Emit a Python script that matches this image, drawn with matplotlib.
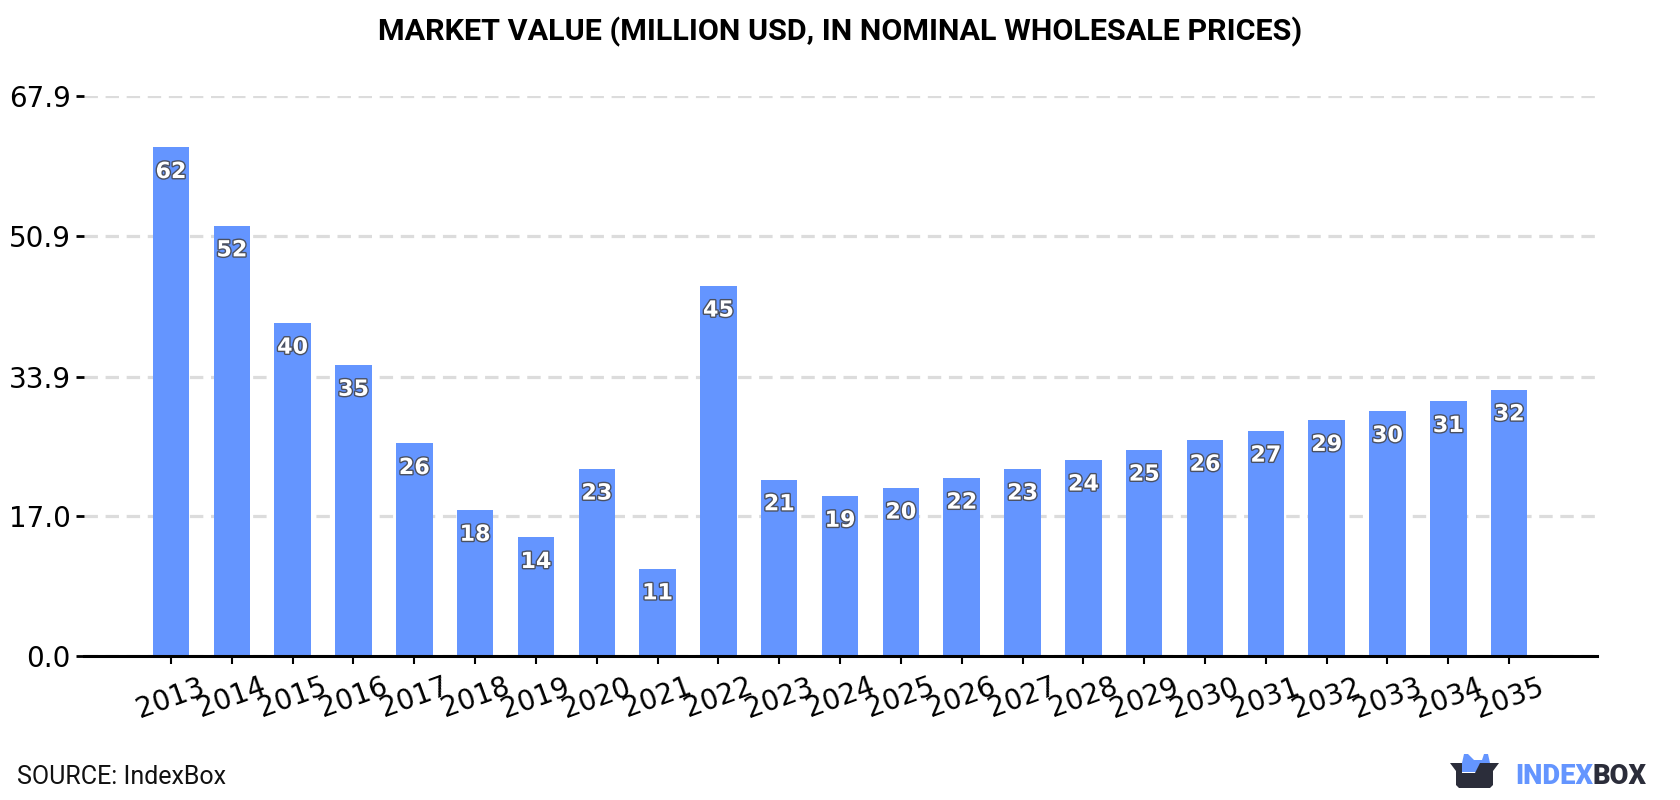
import matplotlib
matplotlib.use("Agg")
import matplotlib.pyplot as plt
import matplotlib.patheffects as pe
from matplotlib.patches import Polygon

years = list(range(2013, 2036))
values = [61.7, 52.2, 40.4, 35.3, 25.8, 17.7, 14.4, 22.7, 10.6, 44.9, 21.4, 19.4,
          20.4, 21.6, 22.7, 23.8, 25.0, 26.2, 27.3, 28.6, 29.7, 30.9, 32.3]
y_ticks = [0.0, 17.0, 33.9, 50.9, 67.9]

BLUE = "#6495ff"
DARK = "#2b2d3a"
W, H = 1680, 800

fig = plt.figure(figsize=(W / 100, H / 100), dpi=100, facecolor="white")
ax = fig.add_axes([84 / W, 1 - 656 / H, (1597 - 84) / W, (656 - 96.2) / H])

ax.bar(years, values, width=0.6, color=BLUE, zorder=2)
ax.set_xlim(2013 - 1.43, 2035 + 1.445)
ax.set_ylim(0, 67.9)

# dashed guides behind the bars
ax.yaxis.grid(True, color="#dcdcdc", linestyle=(0, (4.2, 2.4)), linewidth=2.3, zorder=1)
ax.set_axisbelow(True)
for s in ["top", "right", "left"]:
    ax.spines[s].set_visible(False)
ax.spines["bottom"].set_linewidth(2.2)

ax.set_yticks(y_ticks)
ax.set_yticklabels([f"{t:.1f}" for t in y_ticks], fontsize=20, family="DejaVu Sans")
ax.set_xticks(years)
ax.set_xticklabels(years, fontsize=20, family="DejaVu Sans", rotation=20, ha="center")
ax.tick_params(axis="y", length=6, width=2, pad=3.5)
ax.tick_params(axis="x", length=6, width=1.5, pad=6)

for year, val in zip(years, values):
    ax.annotate(f"{val:.0f}", (year, val), xytext=(0, -17.8), textcoords="offset points",
                ha="center", va="center", fontsize=16, fontweight="bold",
                family="DejaVu Sans", color="white", zorder=3,
                path_effects=[pe.withStroke(linewidth=2, foreground="#4a5060")])

fig.text(0.5, 1 - 32 / H, "MARKET VALUE (MILLION USD, IN NOMINAL WHOLESALE PRICES)",
         ha="center", va="center", fontsize=21.95, fontweight="bold", family="Roboto", color="black")
fig.text(17 / W, 1 - 777 / H, "SOURCE: IndexBox", ha="left", va="center", fontsize=18,
         family="Roboto", color="#111111")

# logo: a box with blue ears, then the wordmark
def px(points):
    return [(x / W, 1 - y / H) for x, y in points]

fig.add_artist(Polygon(px([(1462, 763), (1464, 754), (1468, 754), (1474, 760), (1482, 760),
                           (1484, 754), (1488, 754), (1490, 763), (1490, 772), (1462, 772)]),
                       closed=True, facecolor=BLUE, edgecolor="none"))
fig.add_artist(Polygon(px([(1450, 763), (1462, 763), (1462, 773), (1475, 773), (1480, 763), (1499, 763),
                           (1493, 771), (1493, 785), (1490, 788), (1459, 788), (1456, 785), (1456, 771)]),
                       closed=True, facecolor=DARK, edgecolor="none"))
t = fig.text(1515 / W, 1 - 776 / H, "INDEX", ha="left", va="center", fontsize=19.7,
             fontweight="black", family="Roboto", color=BLUE)
fig.canvas.draw()
box = t.get_window_extent()
fig.text(box.x1 / W, 1 - 776 / H, "BOX", ha="left", va="center", fontsize=19.7,
         fontweight="black", family="Roboto", color=DARK)

fig.savefig("out.png", dpi=100)
